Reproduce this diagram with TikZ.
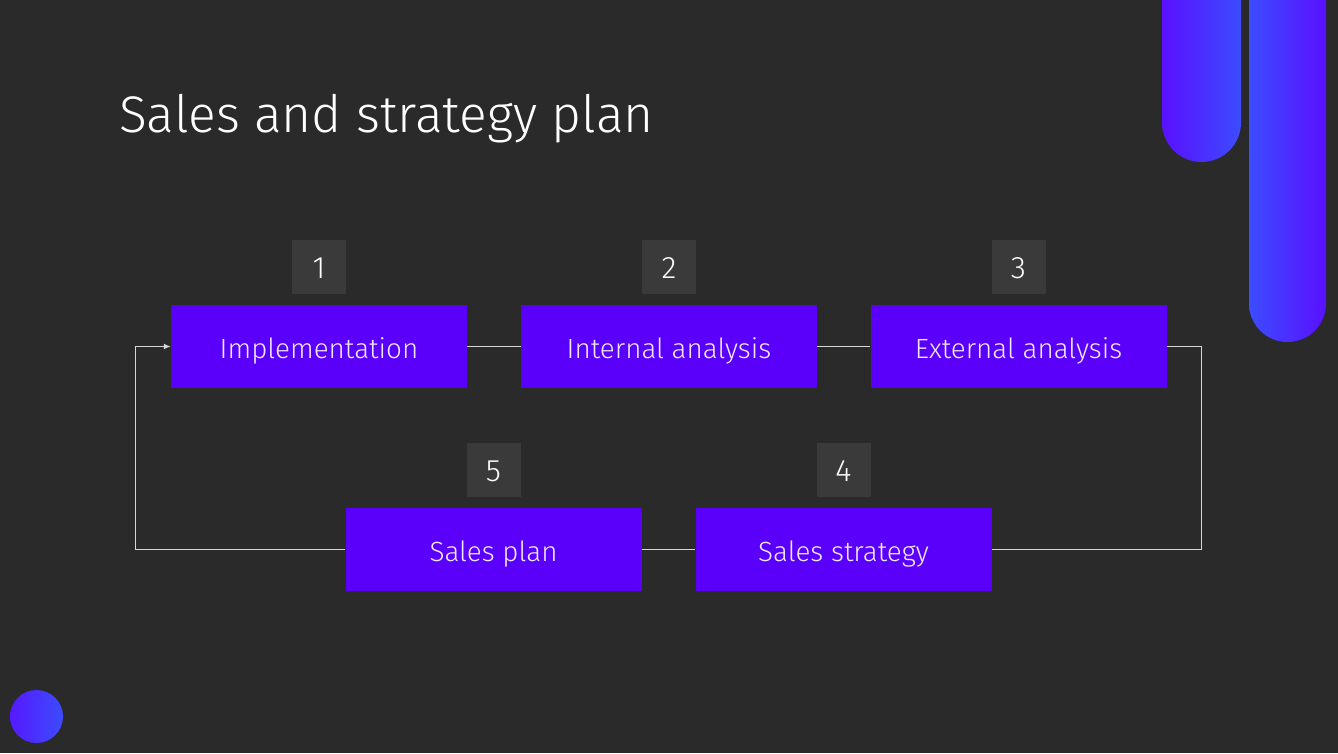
\documentclass[tikz,border=0pt]{standalone}
\usepackage{fontspec}
\setmainfont{Fira Sans Light}
\usetikzlibrary{arrows.meta}
\definecolor{bg}{HTML}{2A2A2A}
\definecolor{boxc}{HTML}{5A00FA}
\definecolor{numc}{HTML}{3A3A3A}
\definecolor{linec}{HTML}{D6D6D6}
\definecolor{txtc}{HTML}{EFE8FF}
\definecolor{gpur}{HTML}{5A10FF}
\definecolor{gblu}{HTML}{3C4CFF}
\tikzset{
  stepbox/.style={fill=boxc, minimum width=296pt, minimum height=83pt, inner sep=0pt, text=txtc, text height=23pt, text depth=0pt, font=\fontsize{27.8}{30}\selectfont},
  numbox/.style={fill=numc, minimum width=54pt, minimum height=54pt, inner sep=0pt, text=white, text height=24pt, text depth=0pt, font=\fontsize{31}{34}\selectfont},
  conn/.style={draw=linec, line width=1.4pt},
}
\begin{document}
\begin{tikzpicture}[x=1pt,y=-1pt]
\fill[bg] (0,0) rectangle (1338,753);
\useasboundingbox (0,0) rectangle (1338,753);
\begin{scope}
\clip (0,0) rectangle (1338,753);
\shade[left color=gpur, right color=gblu, rounded corners=39.5pt] (1162,-60) rectangle (1241,162);
\shade[left color=gblu, right color=gpur, rounded corners=38.5pt] (1249,-60) rectangle (1326,342);
\end{scope}
\shade[left color=gpur!85!gblu, right color=gblu] (36.5,716.5) circle (26.5);
\node[anchor=base west, text=white, font=\fontsize{51.5}{60}\selectfont, inner sep=0pt] (title) at (119,132) {Sales and strategy plan};
\node[stepbox] (impl) at (319,346.5) {Implementation};
\node[stepbox] (int) at (669,346.5) {Internal analysis};
\node[stepbox] (ext) at (1018.5,346.5) {External analysis};
\node[stepbox] (plan) at (493.5,549.5) {Sales plan};
\node[stepbox] (strat) at (843.5,549.5) {Sales strategy};
\node[numbox] (n1) at (319,266.5) {1};
\node[numbox] (n2) at (669,266.5) {2};
\node[numbox] (n3) at (1018.5,266.5) {3};
\node[numbox] (n5) at (493.5,469.5) {5};
\node[numbox] (n4) at (843.5,469.5) {4};
\draw[conn] (impl.east) -- (int.west);
\draw[conn] (int.east) -- (ext.west);
\draw[conn] (ext.east) -- ++(35,0) |- (strat.east);
\draw[conn] (strat.west) -- (plan.west -| plan.east);
\draw[conn, -{Latex[length=7pt,width=6pt]}] (plan.west) -- ++(-210,0) |- (impl.west);
\end{tikzpicture}
\end{document}
